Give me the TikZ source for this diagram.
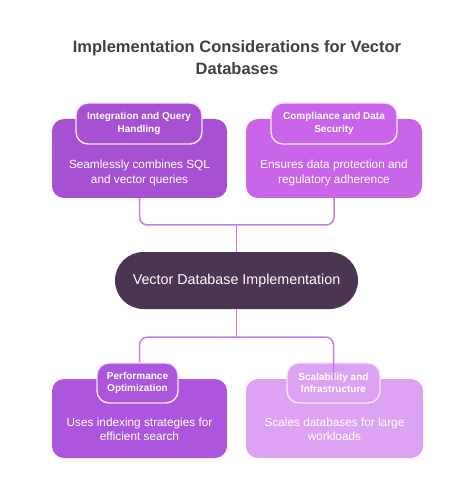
\documentclass[tikz,border=0pt]{standalone}
\usepackage{fontspec}
\setmainfont{Liberation Sans}
\definecolor{boxA}{HTML}{A651D2}
\definecolor{boxB}{HTML}{C865E8}
\definecolor{boxC}{HTML}{AB56DC}
\definecolor{boxD}{HTML}{DDA2F2}
\definecolor{pillc}{HTML}{4C3552}
\definecolor{linec}{HTML}{C47FE6}
\definecolor{tabline}{HTML}{F6E6FC}
\definecolor{titlec}{HTML}{404040}
\begin{document}
\begin{tikzpicture}[x=1pt,y=-1pt,
  bigbox/.style={rounded corners=12pt, minimum width=#1, minimum height=79pt, inner sep=0pt},
  tabbox/.style={rounded corners=12pt, draw=tabline, line width=1.4pt, minimum height=41pt, inner sep=0pt, text=white, font=\fontsize{10}{12.5}\selectfont\bfseries, align=center},
  bodytext/.style={text=white, font=\fontsize{11.8}{14.5}\selectfont, align=center},
  conn/.style={draw=linec, line width=1.5pt, rounded corners=8pt}]
\useasboundingbox (0,0) rectangle (474,502);
\fill[white] (0,0) rectangle (474,502);
\node[text=titlec, font=\fontsize{16.5}{22}\selectfont\bfseries, align=center] (title) at (237,58) {Implementation Considerations for Vector\\Databases};
% boxes
\node[bigbox=175pt, fill=boxA] (tl) at (139.5,158.5) {};
\node[bigbox=176pt, fill=boxB] (tr) at (334,158.5) {};
\node[bigbox=175pt, fill=boxC] (bl) at (139.5,418.5) {};
\node[bigbox=177pt, fill=boxD] (br) at (334.5,418.5) {};
% tabs
\node[tabbox, fill=boxA, minimum width=126pt] (tlt) at (139,123.5) {Integration and Query\\Handling};
\node[tabbox, fill=boxB, minimum width=126pt] (trt) at (334,123.5) {Compliance and Data\\Security};
\node[tabbox, fill=boxC, minimum width=81pt, minimum height=40pt] (blt) at (137.5,383) {Performance\\Optimization};
\node[tabbox, fill=boxD, minimum width=93pt, minimum height=40pt] (brt) at (333.5,383) {Scalability and\\Infrastructure};
% body texts
\node[bodytext] (tlb) at (139.5,173) {Seamlessly combines SQL\\and vector queries};
\node[bodytext] (trb) at (334,173) {Ensures data protection and\\regulatory adherence};
\node[bodytext] (blb) at (139.5,429.5) {Uses indexing strategies for\\efficient search};
\node[bodytext] (brb) at (334.5,429.5) {Scales databases for large\\workloads};
% pill
\node[fill=pillc, rounded corners=28.5pt, minimum width=243pt, minimum height=57pt, inner sep=0pt, text=white, font=\fontsize{14.3}{18}\selectfont] (pill) at (236.5,280.5) {Vector Database Implementation};
% connectors
\coordinate (jt) at (236.5,225);
\coordinate (jb) at (236.5,337);
\draw[conn] (tl.south) |- (jt) -| (tr.south);
\draw[conn] (jt) -- (pill.north);
\draw[conn] (pill.south) -- (jb);
\draw[conn] (blt.north -| bl.north) |- (jb) -| (br.north -| brt.north);
\end{tikzpicture}
\end{document}
